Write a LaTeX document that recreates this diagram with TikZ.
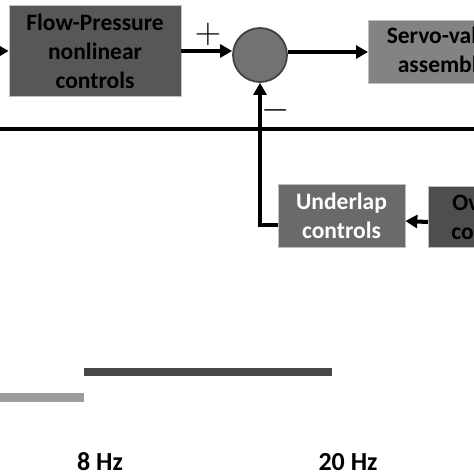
\documentclass[tikz,border=0pt]{standalone}
\usepackage{fontspec}
\setmainfont{Carlito}
\usetikzlibrary{arrows.meta,positioning}
\definecolor{boxdark}{HTML}{4E4E4E}
\definecolor{boxmid}{HTML}{575757}
\definecolor{boxunder}{HTML}{6A6A6A}
\definecolor{boxservo}{HTML}{838383}
\definecolor{sumgray}{HTML}{727272}
\definecolor{barlight}{HTML}{9C9C9C}
\definecolor{bardark}{HTML}{474747}

\begin{document}
\begin{tikzpicture}[x=0.02cm,y=-0.02cm,
    ctrlbox/.style={rectangle,draw=gray!50,line width=0.4pt,text=black,align=center,font=\fontsize{13.4}{16.5}\selectfont\bfseries,inner sep=0pt},
    sumnode/.style={circle,draw=black!75,line width=1pt,fill=sumgray,minimum size=1.08cm,inner sep=0pt},
    sig/.style={line width=2.3pt,-{Triangle[length=0.24cm,width=0.26cm]}}]
    \useasboundingbox (0,0) rectangle (474,474);
    \clip (0,0) rectangle (474,474);

    \node[ctrlbox,fill=boxmid,minimum width=3.44cm,minimum height=1.82cm] (flow) at (95,51) {Flow-Pressure\\nonlinear\\controls};
    \coordinate (in) at (-10,51);
    \draw[sig] (in) -- (flow.west);

    \node[sumnode] (sum) at (260,55) {};
    \draw[sig] (flow.east) -- (flow.east -| sum.west);
    \node (plus) at (208,34) {\fontsize{21}{21}\selectfont $+$};

    \node[ctrlbox,fill=boxservo,minimum width=3cm,minimum height=1.26cm,anchor=west] (servo) at (368,52) {Servo-valve\\assembly};
    \draw[sig] (sum.east |- servo.west) -- (servo.west);

    % horizontal rail
    \draw[line width=2.3pt] (0,129) -- (474,129);

    \node[ctrlbox,fill=boxunder,text=white,minimum width=2.54cm,minimum height=1.26cm] (under) at (341.5,215.5) {Underlap\\controls};
    \node[ctrlbox,fill=boxdark,minimum width=2.5cm,minimum height=1.22cm,anchor=west] (over) at (428,216.5) {Overlap\\controls};
    \draw[sig] ([yshift=-0.11cm]over.west) -- ([yshift=-0.11cm]under.east);
    \draw[sig] ([yshift=-0.19cm]under.west) -| (sum.south);
    \node (minus) at (276,110) {\fontsize{21}{21}\selectfont $-$};

    % frequency bands
    \fill[bardark] (84,368) rectangle (332,376);
    \fill[barlight] (0,393) rectangle (84,402);
    \node[font=\fontsize{14.8}{16}\selectfont\bfseries] (f8) at (100,462) {8 Hz};
    \node[font=\fontsize{14.8}{16}\selectfont\bfseries] (f20) at (348,462) {20 Hz};
\end{tikzpicture}
\end{document}
